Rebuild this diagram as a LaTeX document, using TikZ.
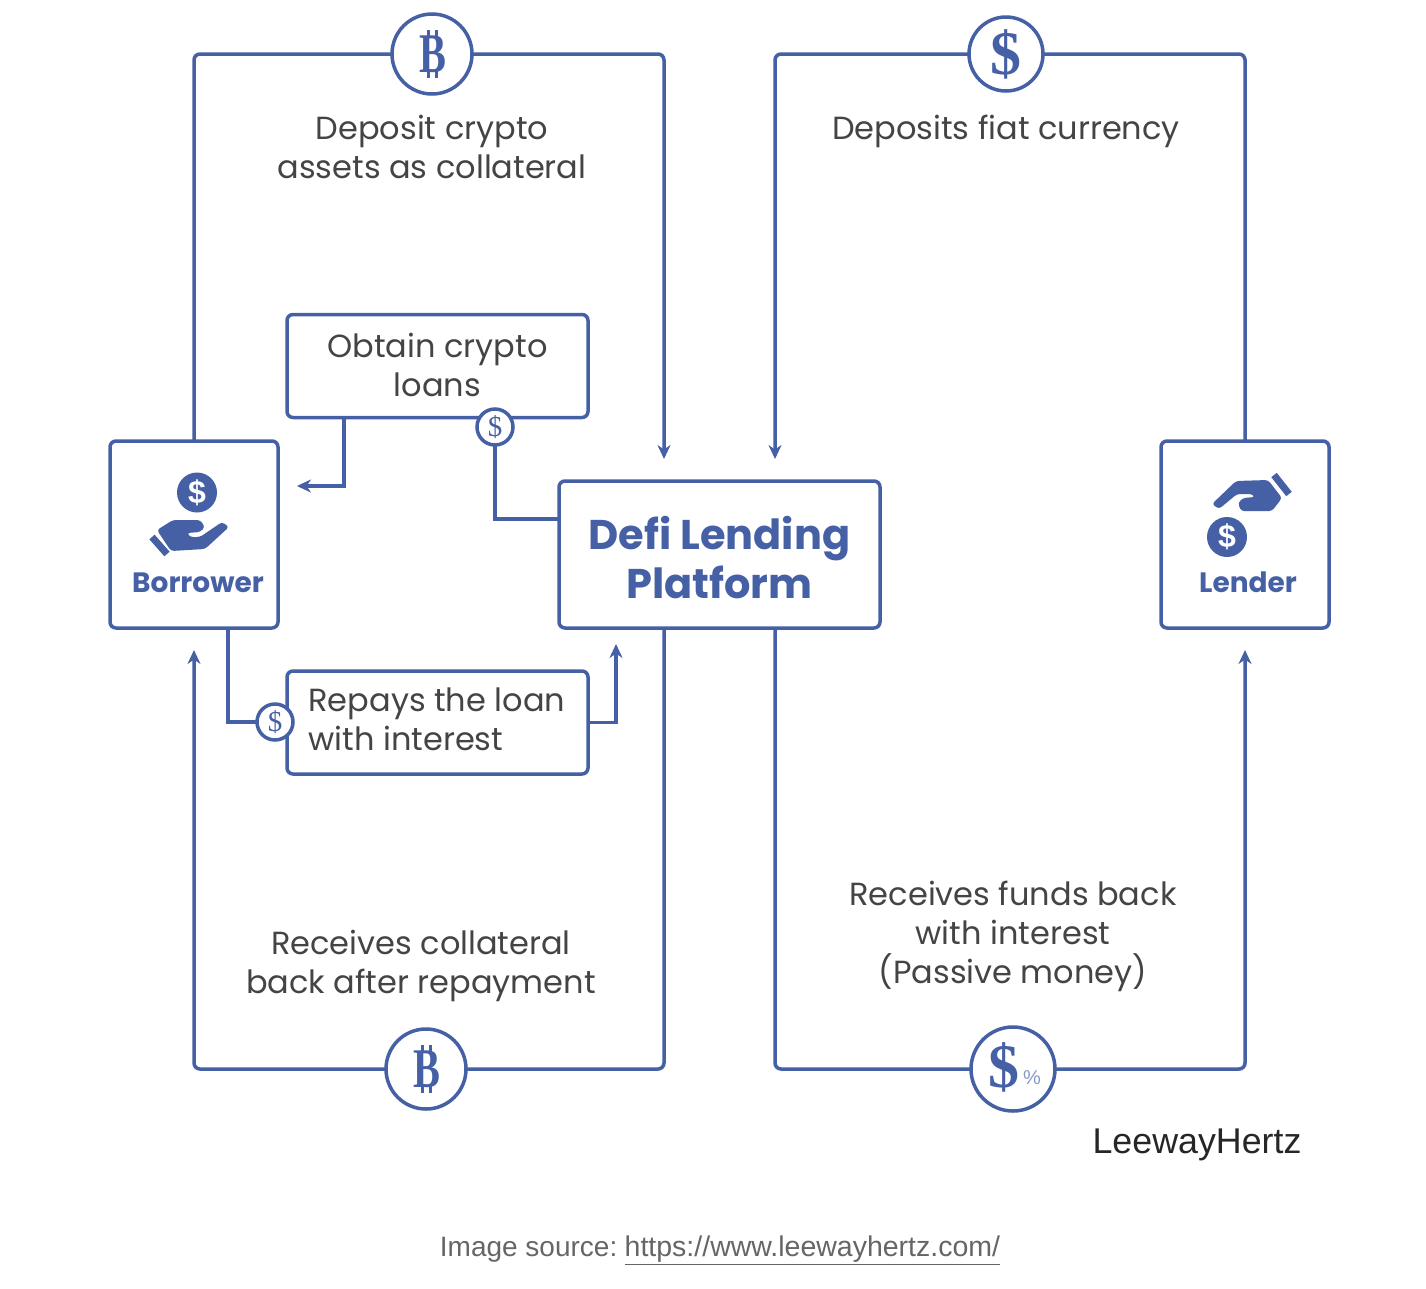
\documentclass[tikz,border=0pt]{standalone}
\usepackage{fontspec}
\setmainfont{Poppins}
\newfontfamily\serifglyph{Liberation Serif}
\newfontfamily\plainsans{Liberation Sans}
\usetikzlibrary{arrows.meta}
\definecolor{defiblue}{HTML}{4560A5}
\definecolor{textgrey}{HTML}{444444}
\tikzstyle{base} = [draw=defiblue, line width=3.5pt, rounded corners=6pt, fill=white, outer sep=0pt, inner sep=0pt]
\tikzstyle{party} = [base, minimum width=168pt, minimum height=187pt]
\tikzstyle{step_box} = [base, minimum width=301pt, minimum height=103pt]
\tikzstyle{platform} = [base, minimum width=321pt, minimum height=147pt]
\tikzstyle{platform_name} = [text=defiblue, align=center, font=\fontsize{41.5}{49}\selectfont\bfseries]
\tikzstyle{caption} = [text=textgrey, align=center, font=\fontsize{32}{39}\selectfont]
\tikzstyle{party_name} = [text=defiblue, font=\fontsize{28}{30}\selectfont\bfseries]
\tikzstyle{money} = [circle, draw=defiblue, line width=3.5pt, fill=white, text=defiblue, inner sep=0pt, outer sep=0pt, font=\serifglyph]
\tikzstyle{coin} = [circle, fill=defiblue, text=white, minimum size=40pt, inner sep=0pt, font=\plainsans\fontsize{32}{32}\selectfont\bfseries]
\tikzstyle{link} = [draw=defiblue, line width=3.5pt, rounded corners=6pt]
\tikzstyle{arrow} = [link, -{Stealth[length=14pt,width=13pt]}]
\tikzstyle{glyph} = [text=defiblue, font=\serifglyph\bfseries\fontsize{56}{56}\selectfont]
\begin{document}
\begin{tikzpicture}[x=1pt, y=-1pt]
\useasboundingbox (0,0) rectangle (1426,1288);

% free ends of the arrows
\coordinate (DEFI_IN_LEFT) at (664,459);
\coordinate (DEFI_IN_RIGHT) at (775,459);
\coordinate (DEFI_OUT_LEFT) at (664,628);
\coordinate (DEFI_OUT_RIGHT) at (775,628);
\coordinate (BORROWER_IN) at (194,650);
\coordinate (BORROWER_OUT) at (228,628);
\coordinate (BORROWER_SIDE) at (297,486);
\coordinate (LENDER_IN) at (1245,650);
\coordinate (DEFI_SIDE_IN) at (616,644);
\coordinate (OBTAIN_OUT) at (344,417);

\node (BORROWER) [party] at (194,534.5) {};
\node (LENDER) [party] at (1245,534.5) {};
\node (DEFI_PLATFORM) [platform] at (719.5,554.5) {};
\node (DEFI_TEXT) [platform_name] at (719.5,558) {Defi Lending\\Platform};
\node (OBTAIN_LOANS) [step_box] at (437.5,366) {};
\node (OBTAIN_TEXT) [caption] at (437.5,365) {Obtain crypto\\loans};
\node (REPAY_LOAN) [step_box] at (437.5,722.5) {};
\node (REPAY_TEXT) [caption, align=left] at (437.5,719.5) {\makebox[258pt][l]{Repays the loan}\\with interest};

\node (BTC_TOP) [money, minimum size=80pt] at (432,54) {};
\node (USD_TOP) [money, minimum size=74pt, font=\serifglyph\bfseries\fontsize{62}{62}\selectfont] at (1006,54) {\$};
\node (BTC_BOTTOM) [money, minimum size=80pt] at (426,1069) {};
\node (USD_BOTTOM) [money, minimum size=84pt] at (1013,1069) {};
\node (USD_OBTAIN) [money, minimum size=36pt, font=\serifglyph\fontsize{29}{29}\selectfont] at (495,427) {\$};
\node (USD_REPAY) [money, minimum size=36pt, font=\serifglyph\fontsize{29}{29}\selectfont] at (275,722) {\$};

% bitcoin and interest glyphs
\node (BTC_TOP_SIGN) [glyph] at (433,54) {\scalebox{0.72}[1]{B}};
\node (BTC_BOTTOM_SIGN) [glyph] at (427,1069) {\scalebox{0.72}[1]{B}};
\foreach \x/\y in {432/54, 426/1069} {
    \foreach \dx in {-4,4} {
        \draw [defiblue, line width=3pt] (\x+\dx,\y-24) -- (\x+\dx,\y-17);
        \draw [defiblue, line width=3pt] (\x+\dx,\y+17) -- (\x+\dx,\y+24);
    }
}
\node (USD_BOTTOM_SIGN) [glyph, font=\serifglyph\bfseries\fontsize{62}{62}\selectfont] at (1004,1067) {\$};
\node (USD_BOTTOM_PCT) [text=defiblue!65, font=\plainsans\fontsize{20}{20}\selectfont] at (1032,1078) {\%};

\draw [link] (BORROWER.north) |- (BTC_TOP.west);
\draw [arrow] (BTC_TOP.east) -| (DEFI_IN_LEFT);
\draw [link] (LENDER.north) |- (USD_TOP.east);
\draw [arrow] (USD_TOP.west) -| (DEFI_IN_RIGHT);
\draw [link] (DEFI_OUT_LEFT) |- (BTC_BOTTOM.east);
\draw [arrow] (BTC_BOTTOM.west) -| (BORROWER_IN);
\draw [link] (DEFI_OUT_RIGHT) |- (USD_BOTTOM.west);
\draw [arrow] (USD_BOTTOM.east) -| (LENDER_IN);
\draw [arrow, rounded corners=0pt] (OBTAIN_OUT) |- (BORROWER_SIDE);
\draw [link, rounded corners=0pt] (USD_OBTAIN.south) |- (DEFI_PLATFORM.west |- 0,519);
\draw [link, rounded corners=0pt] (BORROWER_OUT) |- (USD_REPAY.west);
\draw [arrow, rounded corners=0pt] (REPAY_LOAN.east) -| (DEFI_SIDE_IN);

\node (CAP_COLLATERAL) [caption] at (432,147) {Deposit crypto\\assets as collateral};
\node (CAP_FIAT) [caption] at (1006,131) {Deposits fiat currency};
\node (CAP_BACK) [caption] at (421,965.5) {Receives collateral\\back after repayment};
\node (CAP_FUNDS) [caption] at (1013,936) {Receives funds back\\with interest\\(Passive money)};

% borrower icon
\node (BORROWER_COIN) [coin] at (197,492.5) {\$};
\fill [defiblue, rounded corners=3pt] (157,530) -- (173,520) -- (200,520) -- (205,527) -- (200,532) -- (187,533) -- (190,537) -- (200,537) -- (222,522) -- (229,527) -- (205,549) -- (171,551) -- cycle;
\draw [defiblue, line width=7pt] (152,537) -- (167,554);
\node (BORROWER_NAME) [party_name] at (198,582.5) {Borrower};

% lender icon
\node (LENDER_COIN) [coin] at (1227,537) {\$};
\fill [defiblue, rounded corners=3pt] (1212,504) -- (1236,481) -- (1268,480) -- (1282,498) -- (1272,511) -- (1241,511) -- (1238,503) -- (1243,498) -- (1255,497) -- (1252,494) -- (1237,494) -- (1219,509) -- cycle;
\draw [defiblue, line width=7pt] (1274,475) -- (1289,494);
\node (LENDER_NAME) [party_name] at (1248,582.5) {Lender};

\node (BRAND) [text=black!85, font=\plainsans\fontsize{35.8}{40}\selectfont] at (1197,1145) {LeewayHertz};
\node (SOURCE) [text=black!60, font=\plainsans\fontsize{28}{32}\selectfont] at (720,1250) {Image source:\hspace{-3pt} \underline{\fontsize{28.5}{32}\selectfont https://www.leewayhertz.com/}};

\end{tikzpicture}
\end{document}
